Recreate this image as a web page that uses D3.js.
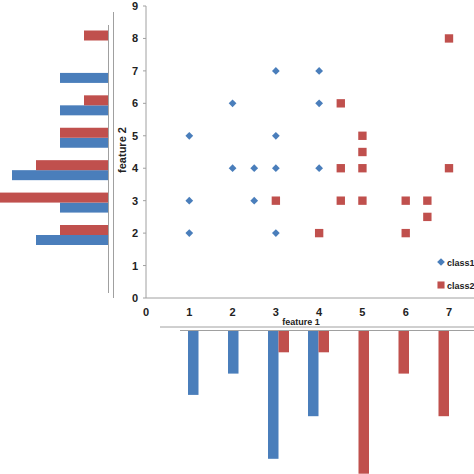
<!DOCTYPE html><html><head><script src="https://cdn.jsdelivr.net/npm/d3@7"></script>
<style>body{margin:0;background:#fff}text{font-family:"Liberation Sans",Arial,sans-serif;fill:#222}</style></head><body>
<svg id="c" width="474" height="474"></svg>
<script>
const class1 = [[1,2],[1,3],[1,5],[2,4],[2,6],[2.5,3],[2.5,4],[3,2],[3,4],[3,5],[3,7],[4,4],[4,6],[4,7]];
const class2 = [[3,3],[4,2],[4.5,3],[4.5,4],[4.5,6],[5,3],[5,4],[5,4.5],[5,5],[6,2],[6,3],[6.5,2.5],[6.5,3],[7,4],[7,8]];
const xTicks = [0,1,2,3,4,5,6,7];
const yTicks = [0,1,2,3,4,5,6,7,8,9];
const bottomBins = [1,2,3,4,5,6,7];
const bottomC1 = [3,2,6,4,0,0,0];
const bottomC2 = [0,0,1,1,6.7,2,4];
const leftBins = [2,3,4,5,6,7,8];
const leftC1 = [3,2,4,2,2,2,0];
const leftC2 = [2,4.5,3,2,1,0,1];
const BLUE="#4a7ebb", RED="#c0504d", GRAY="#a0a0a0";
const svg=d3.select("#c");
const x=d3.scaleLinear().domain([0,7]).range([146,449]);
const y=d3.scaleLinear().domain([0,9]).range([298,6]);
svg.append("line").attr("x1",146).attr("x2",146).attr("y1",6).attr("y2",298).attr("stroke",GRAY);
svg.append("line").attr("x1",146).attr("x2",474).attr("y1",298).attr("y2",298).attr("stroke",GRAY);
yTicks.forEach(t=>{
  svg.append("line").attr("x1",143).attr("x2",146).attr("y1",y(t)).attr("y2",y(t)).attr("stroke",GRAY);
  svg.append("text").attr("x",138).attr("y",y(t)+4).attr("text-anchor","end").attr("font-size",11).attr("font-weight","bold").text(t);
});
xTicks.forEach(t=>svg.append("text").attr("x",x(t)).attr("y",316).attr("text-anchor","middle").attr("font-size",11).attr("font-weight","bold").text(t));
svg.append("text").attr("transform","translate(126,150) rotate(-90)").attr("text-anchor","middle").attr("font-size",11).attr("font-weight","bold").text("feature 2");
svg.append("text").attr("x",301).attr("y",325).attr("text-anchor","middle").attr("font-size",9).attr("font-weight","bold").text("feature 1");
const dia=d3.symbol().type(d3.symbolSquare).size(30), sq=d3.symbol().type(d3.symbolSquare).size(70);
svg.selectAll(".c1").data(class1).join("path").attr("d",dia).attr("transform",d=>`translate(${x(d[0])},${y(d[1])}) rotate(45)`).attr("fill",BLUE);
svg.selectAll(".c2").data(class2).join("path").attr("d",sq).attr("transform",d=>`translate(${x(d[0])},${y(d[1])})`).attr("fill",RED);
svg.append("path").attr("d",dia).attr("transform","translate(441,262) rotate(45)").attr("fill",BLUE);
svg.append("text").attr("x",447).attr("y",266).attr("font-size",9).attr("font-weight","bold").text("class1");
svg.append("path").attr("d",d3.symbol().type(d3.symbolSquare).size(50)).attr("transform","translate(441,285)").attr("fill",RED);
svg.append("text").attr("x",447).attr("y",289).attr("font-size",9).attr("font-weight","bold").text("class2");
const bx=d3.scaleLinear().domain([1,7]).range([198.5,438.5]);
const bl=d3.scaleLinear().domain([0,1]).range([0,21.3]);
svg.append("line").attr("x1",160).attr("x2",474).attr("y1",327).attr("y2",327).attr("stroke",GRAY);
svg.append("line").attr("x1",180).attr("x2",474).attr("y1",330.5).attr("y2",330.5).attr("stroke",GRAY);
bottomBins.forEach((b,i)=>{
  if(bottomC1[i]) svg.append("rect").attr("x",bx(b)-10.5).attr("y",331).attr("width",10.5).attr("height",bl(bottomC1[i])).attr("fill",BLUE);
  if(bottomC2[i]) svg.append("rect").attr("x",bx(b)).attr("y",331).attr("width",10.5).attr("height",bl(bottomC2[i])).attr("fill",RED);
});
const ly=d3.scaleLinear().domain([2,8]).range([235,40.5]);
const ll=d3.scaleLinear().domain([0,1]).range([0,24]);
svg.append("line").attr("x1",113.5).attr("x2",113.5).attr("y1",12).attr("y2",298).attr("stroke",GRAY);
svg.append("line").attr("x1",108.5).attr("x2",108.5).attr("y1",25).attr("y2",293).attr("stroke",GRAY);
leftBins.forEach((b,i)=>{
  if(leftC1[i]) svg.append("rect").attr("x",108-ll(leftC1[i])).attr("y",ly(b)).attr("width",ll(leftC1[i])).attr("height",10).attr("fill",BLUE);
  if(leftC2[i]) svg.append("rect").attr("x",108-ll(leftC2[i])).attr("y",ly(b)-10).attr("width",ll(leftC2[i])).attr("height",10).attr("fill",RED);
});
</script></body></html>
